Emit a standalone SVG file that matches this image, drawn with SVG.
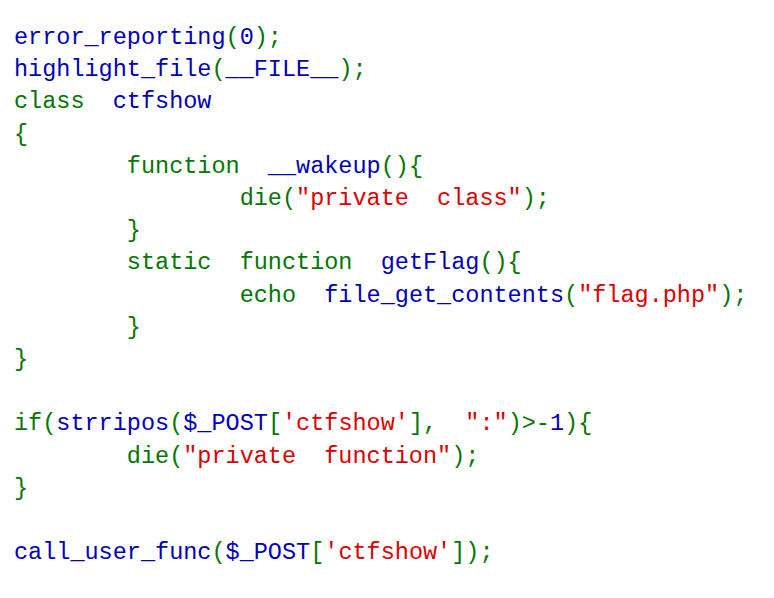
<svg xmlns="http://www.w3.org/2000/svg" width="774" height="598" viewBox="0 0 774 598">
<style>
text{font-family:"Liberation Mono","DejaVu Sans Mono",monospace;font-size:23.5px;white-space:pre}
.b{fill:#0000BB}.g{fill:#007700}.r{fill:#DD0000}
</style>
<rect width="774" height="598" fill="#fff"/>
<g id="code" xml:space="preserve">
<text x="14" y="44"><tspan class="b">error_reporting</tspan><tspan class="g">(</tspan><tspan class="b">0</tspan><tspan class="g">);</tspan></text>
<text x="14" y="76"><tspan class="b">highlight_file</tspan><tspan class="g">(</tspan><tspan class="b">__FILE__</tspan><tspan class="g">);</tspan></text>
<text x="14" y="108"><tspan class="g">class  </tspan><tspan class="b">ctfshow</tspan></text>
<text x="14" y="141" class="g">{</text>
<text x="14" y="173"><tspan class="g">        function  </tspan><tspan class="b">__wakeup</tspan><tspan class="g">(){</tspan></text>
<text x="14" y="205"><tspan class="g">                die(</tspan><tspan class="r">"private  class"</tspan><tspan class="g">);</tspan></text>
<text x="14" y="237" class="g">        }</text>
<text x="14" y="269"><tspan class="g">        static  function  </tspan><tspan class="b">getFlag</tspan><tspan class="g">(){</tspan></text>
<text x="14" y="302"><tspan class="g">                echo  </tspan><tspan class="b">file_get_contents</tspan><tspan class="g">(</tspan><tspan class="r">"flag.php"</tspan><tspan class="g">);</tspan></text>
<text x="14" y="334" class="g">        }</text>
<text x="14" y="366" class="g">}</text>
<text x="14" y="430"><tspan class="g">if(</tspan><tspan class="b">strripos</tspan><tspan class="g">(</tspan><tspan class="b">$_POST</tspan><tspan class="g">[</tspan><tspan class="r">'ctfshow'</tspan><tspan class="g">],  </tspan><tspan class="r">":"</tspan><tspan class="g">)&gt;-</tspan><tspan class="b">1</tspan><tspan class="g">){</tspan></text>
<text x="14" y="463"><tspan class="g">        die(</tspan><tspan class="r">"private  function"</tspan><tspan class="g">);</tspan></text>
<text x="14" y="495" class="g">}</text>
<text x="14" y="559"><tspan class="b">call_user_func</tspan><tspan class="g">(</tspan><tspan class="b">$_POST</tspan><tspan class="g">[</tspan><tspan class="r">'ctfshow'</tspan><tspan class="g">]);</tspan></text>
</g>
</svg>
